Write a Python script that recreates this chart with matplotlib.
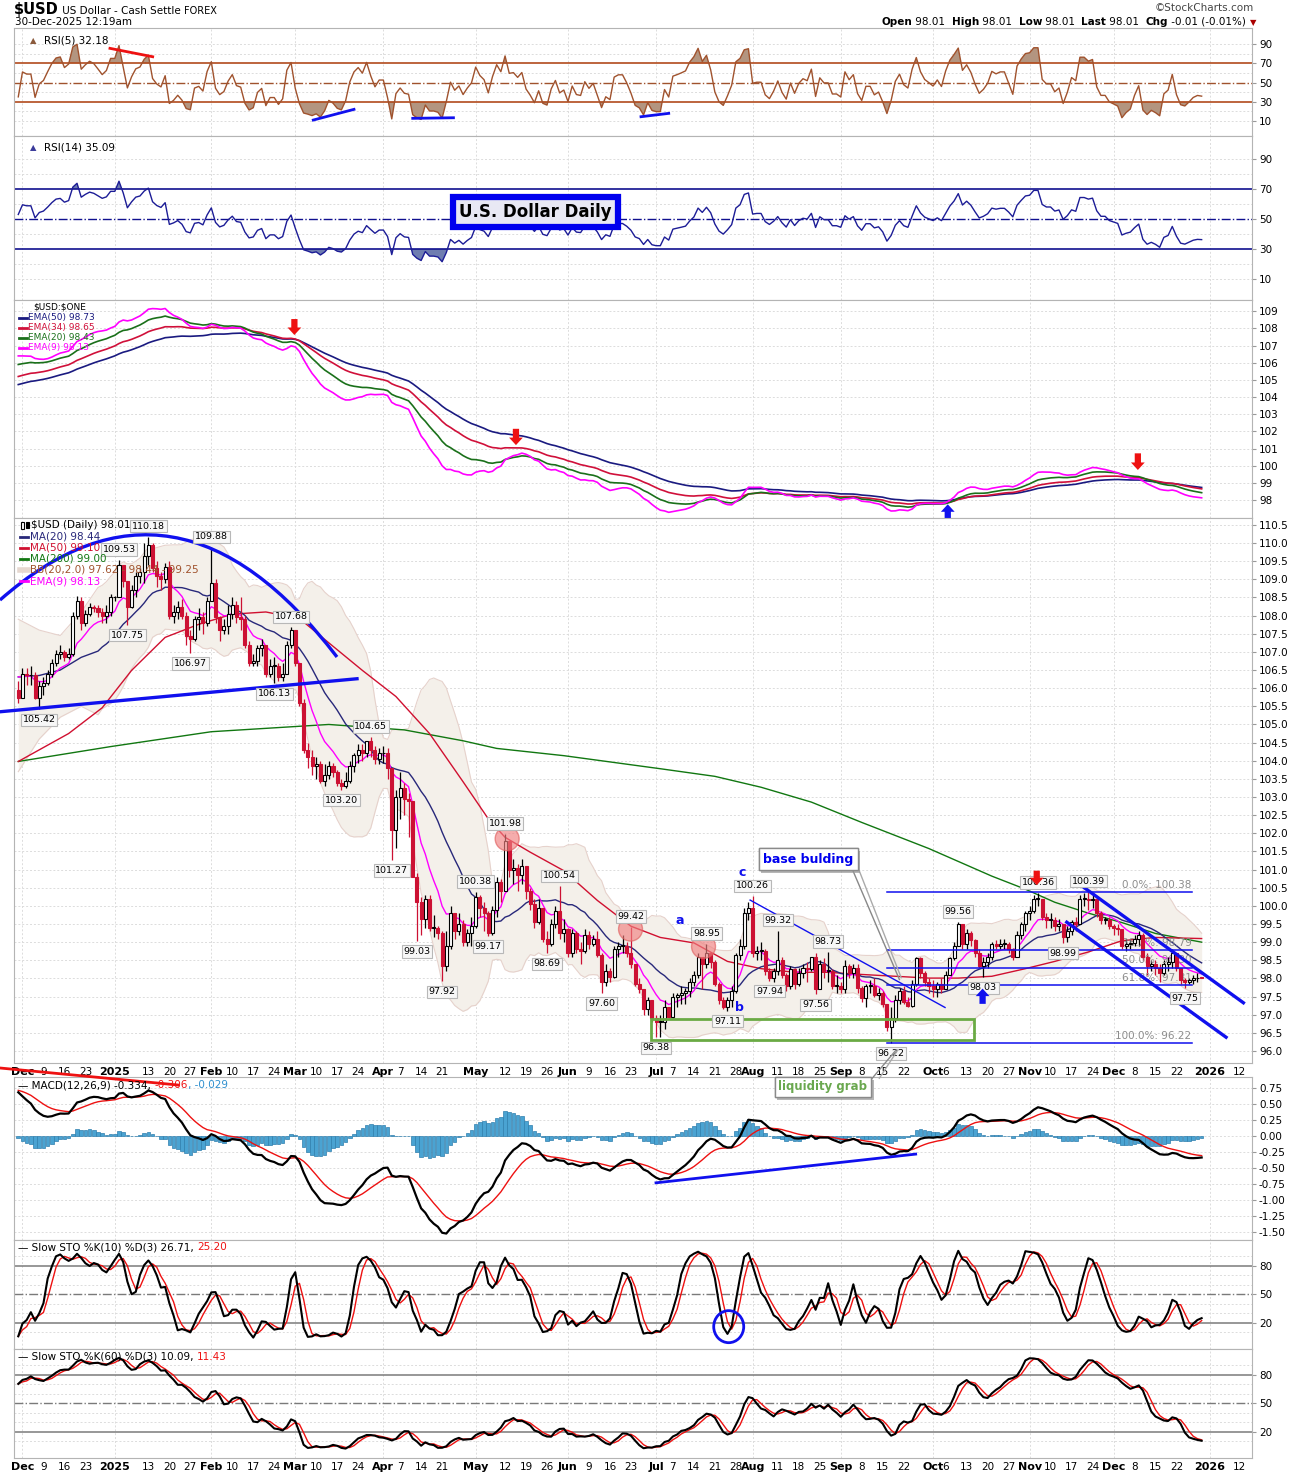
import numpy as np
import pandas as pd
import matplotlib
matplotlib.use("Agg")
import matplotlib.pyplot as plt
from matplotlib.patches import Ellipse, PathPatch, Rectangle
from matplotlib.path import Path
from matplotlib.lines import Line2D
from matplotlib.offsetbox import TextArea, HPacker, AnchoredOffsetbox
import matplotlib.patheffects as pe

plt.rcParams['font.family'] = ['DejaVu Sans']

# ---------------- DATA ----------------
first_day = "2024-11-29"
first_open = 105.95
closes = [105.74,
    106.40, 106.35, 106.35, 105.73, 106.06,
    106.15, 106.40, 106.70, 106.95, 107.00,
    106.85, 106.95, 108.00, 108.40, 107.80,
    108.05, 108.25, 108.20, 108.10, 108.00,
    108.10, 108.50, 108.50, 109.40, 108.95,
    108.25, 108.70, 109.10, 109.20, 109.65,
    109.95, 109.30, 109.10, 109.00, 109.35,
    108.00, 108.10, 108.25, 108.00, 107.45,
    107.35, 107.90, 107.95, 107.80, 108.40,
    108.90, 107.95, 107.60, 107.70, 108.05,
    108.30, 107.95, 107.90, 107.20, 106.70,
    106.75, 107.10, 107.20, 106.40, 106.60,
    106.60, 106.30, 106.40, 107.20, 107.60,
    106.70, 105.60, 104.30, 104.10, 103.85,
    103.90, 103.45, 103.60, 103.85, 103.70,
    103.40, 103.30, 103.45, 103.85, 104.15,
    104.30, 104.20, 104.55, 104.30, 104.05,
    104.20, 104.20, 103.80, 102.10, 103.00,
    103.25, 102.95, 102.90, 100.80, 100.10,
    99.65, 100.20, 99.40, 99.40, 99.25,
    98.35, 98.90, 99.80, 99.30, 99.50,
    99.00, 99.25, 99.45, 100.25, 99.95,
    99.80, 99.25, 99.90, 100.65, 100.40,
    101.80, 101.00, 101.05, 100.85, 101.10,
    100.40, 100.05, 99.55, 99.95, 99.10,
    98.95, 99.50, 99.85, 99.25, 99.35,
    98.70, 99.25, 98.80, 98.75, 99.20,
    98.95, 99.10, 98.65, 97.90, 98.20,
    98.05, 98.80, 98.90, 98.90, 98.70,
    98.40, 97.85, 97.70, 97.15, 97.40,
    96.90, 96.80, 96.80, 97.20, 96.95,
    97.50, 97.55, 97.60, 97.65, 97.90,
    98.10, 98.60, 98.40, 98.70, 98.45,
    97.85, 97.40, 97.20, 97.40, 97.65,
    98.65, 98.90, 99.80, 99.95, 98.70,
    98.75, 98.75, 98.20, 98.00, 98.20,
    98.50, 98.10, 97.80, 98.25, 97.85,
    98.15, 98.30, 98.25, 98.60, 97.70,
    98.40, 98.20, 98.20, 97.80, 97.80,
    97.70, 98.35, 98.15, 98.30, 97.75,
    97.45, 97.80, 97.80, 97.55, 97.60,
    97.30, 96.65, 96.90, 97.40, 97.65,
    97.35, 97.25, 97.85, 98.55, 98.15,
    97.90, 97.80, 97.70, 97.85, 97.70,
    98.10, 98.55, 98.90, 99.50, 98.95,
    99.25, 99.05, 98.70, 98.35, 98.45,
    98.60, 98.95, 98.90, 98.95, 98.95,
    98.80, 98.60, 99.20, 99.50, 99.80,
    99.85, 100.20, 100.20, 99.70, 99.60,
    99.60, 99.45, 99.50, 99.15, 99.30,
    99.55, 99.50, 100.20, 100.20, 100.15,
    100.20, 99.80, 99.60, 99.60, 99.45,
    99.40, 99.35, 98.90, 98.95, 98.98,
    99.10, 99.20, 98.60, 98.35, 98.40,
    98.30, 98.15, 98.40, 98.45, 98.70,
    98.30, 97.95, 97.90, 97.95, 98.00,
    98.02, 98.01]
highs = [106.20,
    106.55, 106.55, 106.60, 106.45, 106.20,
    106.30, 106.50, 106.80, 107.05, 107.20,
    107.05, 107.10, 108.10, 108.55, 108.50,
    108.15, 108.35, 108.30, 108.30, 108.20,
    108.30, 108.60, 108.55, 109.53, 109.40,
    108.90, 108.85, 109.20, 109.30, 110.00,
    110.18, 110.00, 109.50, 109.20, 109.45,
    109.50, 108.30, 108.40, 108.45, 108.10,
    107.60, 108.00, 108.20, 108.10, 108.50,
    109.88, 109.00, 108.00, 107.90, 108.30,
    108.50, 108.40, 108.50, 108.00, 107.30,
    106.95, 107.20, 107.35, 107.20, 106.80,
    106.85, 106.70, 106.70, 107.30, 107.68,
    107.60, 106.70, 105.70, 104.50, 104.30,
    104.10, 104.00, 103.90, 104.00, 103.95,
    103.75, 103.50, 103.70, 104.00, 104.20,
    104.45, 104.45, 104.55, 104.65, 104.40,
    104.35, 104.40, 104.35, 103.60, 103.20,
    103.70, 103.40, 103.10, 102.90, 100.90,
    100.25, 100.30, 100.30, 99.75, 99.45,
    99.30, 99.30, 100.00, 99.70, 99.80,
    99.60, 99.35, 99.70, 100.38, 100.30,
    100.10, 99.85, 100.00, 100.80, 100.75,
    101.98, 101.80, 101.30, 101.15, 101.30,
    101.00, 100.50, 100.20, 100.20, 99.90,
    99.30, 99.65, 100.00, 100.54, 99.65,
    99.40, 99.35, 99.30, 99.00, 99.35,
    99.30, 99.20, 99.30, 98.70, 98.40,
    98.30, 98.90, 99.00, 99.20, 99.00,
    99.42, 98.40, 98.00, 97.70, 97.50,
    97.40, 97.00, 97.00, 97.40, 97.20,
    97.60, 97.60, 97.80, 97.75, 98.00,
    98.20, 98.70, 98.60, 98.95, 98.70,
    98.50, 97.90, 97.50, 97.50, 97.80,
    98.70, 99.10, 99.95, 100.10, 100.26,
    98.90, 99.00, 98.80, 98.30, 98.30,
    99.32, 98.60, 98.15, 98.35, 98.30,
    98.30, 98.40, 98.45, 98.60, 98.70,
    98.50, 98.55, 98.73, 98.25, 98.10,
    97.90, 98.50, 98.40, 98.40, 98.40,
    97.80, 97.85, 97.95, 98.00, 97.75,
    97.65, 97.30, 97.20, 97.55, 97.75,
    97.80, 97.50, 97.95, 98.60, 98.60,
    98.20, 98.00, 97.95, 97.90, 98.00,
    98.20, 98.60, 99.00, 99.56, 99.50,
    99.35, 99.30, 99.10, 98.80, 98.60,
    98.70, 99.00, 99.05, 99.10, 99.10,
    99.00, 98.85, 99.30, 99.55, 99.85,
    100.00, 100.30, 100.36, 100.20, 99.80,
    99.80, 99.70, 99.65, 99.50, 99.45,
    99.60, 99.70, 100.30, 100.36, 100.39,
    100.30, 100.25, 99.85, 99.70, 99.70,
    99.50, 99.50, 99.30, 99.10, 99.10,
    99.20, 99.30, 99.25, 98.70, 98.50,
    98.50, 98.40, 98.50, 98.60, 98.80,
    98.70, 98.30, 98.00, 98.00, 98.10,
    98.15, 98.01]
lows = [105.60,
    105.75, 106.10, 106.10, 105.70, 105.42,
    105.80, 106.10, 106.30, 106.60, 106.80,
    106.75, 106.80, 106.90, 107.90, 107.60,
    107.70, 108.00, 108.10, 107.95, 107.80,
    107.80, 108.00, 108.40, 108.50, 108.80,
    107.75, 108.20, 108.50, 108.90, 108.90,
    109.40, 109.20, 108.80, 108.70, 108.90,
    107.90, 107.80, 107.90, 107.90, 107.20,
    106.97, 107.30, 107.60, 107.50, 107.70,
    108.40, 107.80, 107.30, 107.50, 107.50,
    107.90, 107.80, 107.60, 107.10, 106.60,
    106.60, 106.60, 106.90, 106.30, 106.30,
    106.13, 106.20, 106.20, 106.40, 107.10,
    106.60, 105.50, 104.20, 103.80, 103.60,
    103.50, 103.40, 103.30, 103.50, 103.55,
    103.30, 103.20, 103.25, 103.40, 103.70,
    103.95, 104.00, 104.10, 104.10, 103.90,
    103.90, 103.95, 103.50, 101.27, 101.60,
    102.40, 102.50, 101.90, 100.80, 99.03,
    99.20, 99.40, 99.30, 99.15, 99.10,
    97.92, 98.20, 98.80, 99.10, 99.20,
    98.90, 98.90, 98.90, 99.40, 99.70,
    99.30, 99.17, 99.20, 99.70, 100.10,
    100.50, 100.80, 100.60, 100.40, 100.60,
    100.20, 99.90, 99.40, 99.50, 99.00,
    98.69, 98.90, 99.40, 99.10, 99.00,
    98.60, 98.60, 98.70, 98.40, 98.70,
    98.80, 98.90, 98.60, 97.60, 97.80,
    97.90, 98.00, 98.60, 98.70, 98.60,
    98.30, 97.80, 97.60, 97.00, 97.00,
    96.80, 96.38, 96.40, 96.60, 96.90,
    96.90, 97.20, 97.30, 97.30, 97.50,
    97.80, 98.00, 97.70, 98.30, 98.30,
    97.80, 97.30, 97.15, 97.11, 97.20,
    97.60, 98.50, 98.80, 99.60, 98.60,
    98.50, 98.50, 98.10, 97.94, 97.90,
    98.10, 98.00, 97.65, 97.70, 97.70,
    97.80, 98.00, 97.90, 98.20, 97.56,
    97.70, 98.00, 97.90, 97.70, 97.60,
    97.60, 97.60, 98.00, 98.00, 97.60,
    97.35, 97.20, 97.60, 97.50, 97.40,
    97.20, 96.55, 96.22, 96.80, 97.30,
    97.30, 97.20, 97.20, 97.80, 98.00,
    97.80, 97.60, 97.50, 97.50, 97.60,
    97.70, 98.10, 98.50, 98.90, 98.80,
    98.80, 98.90, 98.60, 98.30, 98.03,
    98.30, 98.50, 98.80, 98.80, 98.80,
    98.70, 98.50, 98.60, 99.10, 99.30,
    99.60, 99.80, 100.00, 99.60, 99.40,
    99.40, 99.30, 99.30, 98.99, 99.00,
    99.20, 99.30, 99.50, 100.00, 99.90,
    99.95, 99.70, 99.50, 99.50, 99.35,
    99.20, 99.20, 98.80, 98.75, 98.80,
    98.90, 98.90, 98.50, 98.10, 98.20,
    98.10, 97.90, 98.10, 98.20, 98.30,
    98.20, 97.85, 97.75, 97.85, 97.85,
    97.90, 98.01]

# slow moving averages (day index, value)
ma50_days = [0, 12, 20, 27, 35, 43, 51, 59, 67, 74, 82, 90, 98, 106, 112, 116, 122, 130, 138,
             146, 153, 161, 169, 177, 185, 193, 201, 209, 217, 224, 232, 240, 247, 255, 263, 271, 282]
ma50_vals = [103.98, 104.75, 105.46, 106.49, 107.40, 107.76, 108.04, 108.10, 107.92, 107.25, 106.49,
             105.77, 104.75, 103.42, 102.40, 101.89, 101.48, 100.97, 100.15, 99.44, 99.13, 98.98,
             98.47, 98.27, 98.17, 98.17, 98.11, 98.06, 98.01, 98.01, 98.06, 98.27, 98.47, 98.73,
             99.04, 99.13, 99.10]
ma200_days = [0, 22, 46, 74, 92, 106, 114, 130, 153, 166, 177, 189, 201, 217, 232, 240, 247, 255, 263, 271, 282]
ma200_vals = [103.98, 104.39, 104.80, 105.00, 104.85, 104.55, 104.34, 104.14, 103.78, 103.57, 103.27,
              102.86, 102.30, 101.58, 100.82, 100.46, 100.10, 99.80, 99.54, 99.24, 99.00]
# start of MA(20) and Bollinger band before 20 bars exist
ma20_warm_days = [0, 5, 10, 15]
ma20_warm_vals = [106.31, 106.35, 106.50, 106.85]
bb_warm_days = [0, 5, 10, 15]
bb_warm_upper = [107.90, 107.60, 107.45, 108.10]
bb_warm_lower = [103.70, 104.60, 105.20, 105.50]
# indicator starting values read at the left edge
ema_panel_seed_50 = 104.73
ema_panel_seed_34 = 105.20
ema_panel_seed_20 = 105.90
ema_panel_seed_9 = 106.40
ema9_price_seed = 106.31
macd_fast_seed = 106.55
macd_slow_seed = 105.86
macd_signal_seed = 0.72
rsi5_seed = 35.0
rsi14_seed = 53.0
sto_pre_offsets = [-44, -18, -5]
sto_pre_highs = [101.00, 104.20, 108.07]
sto_pre_lows = [100.16, 103.40, 107.00]

# price-labels (day, value, 1=above/0=below)
label_days = [31, 24, 46, 26, 41, 65, 61, 5, 84, 77, 89, 95, 101, 109, 112, 116, 126, 129, 139, 146,
              152, 164, 169, 175, 181, 179, 193, 190, 208, 224, 230, 243, 249, 255, 278]
label_vals = [110.18, 109.53, 109.88, 107.75, 106.97, 107.68, 106.13, 105.42, 104.65, 103.20, 101.27,
              99.03, 97.92, 100.38, 99.17, 101.98, 98.69, 100.54, 97.60, 99.42, 96.38, 98.95, 97.11,
              100.26, 99.32, 97.94, 98.73, 97.56, 96.22, 99.56, 98.03, 100.36, 98.99, 100.39, 97.75]
label_up = [1, 1, 1, 0, 0, 1, 0, 0, 1, 0, 0, 0, 0, 1, 0, 1, 0, 1, 0, 1, 0, 1, 0, 1, 1, 0, 1, 0, 0, 1,
            0, 1, 0, 1, 0]

fib_levels = [100.38, 98.79, 98.30, 97.81, 96.22]
fib_names = ["0.0%: 100.38", "38.2%: 98.79", "50.0%: 98.30", "61.8%: 97.81", "100.0%: 96.22"]

tick_dates = ['2024-12-02', '2024-12-09', '2024-12-16', '2024-12-23', '2025-01-01', '2025-01-13',
              '2025-01-20', '2025-01-27', '2025-02-03', '2025-02-10', '2025-02-17', '2025-02-24',
              '2025-03-03', '2025-03-10', '2025-03-17', '2025-03-24', '2025-04-01', '2025-04-07',
              '2025-04-14', '2025-04-21', '2025-05-01', '2025-05-12', '2025-05-19', '2025-05-26',
              '2025-06-02', '2025-06-09', '2025-06-16', '2025-06-23', '2025-07-01', '2025-07-07',
              '2025-07-14', '2025-07-21', '2025-07-28', '2025-08-01', '2025-08-11', '2025-08-18',
              '2025-08-25', '2025-09-01', '2025-09-08', '2025-09-15', '2025-09-22', '2025-10-01',
              '2025-10-06', '2025-10-13', '2025-10-20', '2025-10-27', '2025-11-03', '2025-11-10',
              '2025-11-17', '2025-11-24', '2025-12-01', '2025-12-08', '2025-12-15', '2025-12-22',
              '2026-01-01', '2026-01-12']
tick_labels = ['Dec', '9', '16', '23', '2025', '13', '20', '27', 'Feb', '10', '17', '24', 'Mar', '10',
               '17', '24', 'Apr', '7', '14', '21', 'May', '12', '19', '26', 'Jun', '9', '16', '23',
               'Jul', '7', '14', '21', '28', 'Aug', '11', '18', '25', 'Sep', '8', '15', '22', 'Oct',
               '6', '13', '20', '27', 'Nov', '10', '17', '24', 'Dec', '8', '15', '22', '2026', '12']
month_labels = {'Dec', '2025', 'Feb', 'Mar', 'Apr', 'May', 'Jun', 'Jul', 'Aug', 'Sep', 'Oct', 'Nov', '2026'}

# ---------------- computations ----------------
n = len(closes)
assert len(highs) == n and len(lows) == n
C = np.array(closes)
O = np.concatenate([[first_open], C[:-1]])
Hh = np.maximum(np.array(highs), np.maximum(O, C))
Ll = np.minimum(np.array(lows), np.minimum(O, C))
xd = np.arange(n)
ext_dates = pd.bdate_range(first_day, '2026-02-27')
date_pos = {d.strftime('%Y-%m-%d'): i for i, d in enumerate(ext_dates)}
tick_pos = [date_pos[t] for t in tick_dates]
month_pos = [p for p, l in zip(tick_pos, tick_labels) if l in month_labels]


def ema_seeded(vals, span, seed):
    a = 2.0 / (span + 1)
    out = np.empty(len(vals))
    out[0] = seed
    for i in range(1, len(vals)):
        out[i] = a * vals[i] + (1 - a) * out[i - 1]
    return out


def rsi_wilder(vals, period, seed_rsi, seed_loss):
    al = seed_loss
    ag = seed_loss * seed_rsi / (100 - seed_rsi)
    out = np.empty(len(vals))
    out[0] = seed_rsi
    for i in range(1, len(vals)):
        ch = vals[i] - vals[i - 1]
        ag = (ag * (period - 1) + max(ch, 0)) / period
        al = (al * (period - 1) + max(-ch, 0)) / period
        out[i] = 100 - 100 / (1 + ag / al) if al > 0 else 100
    return out


s = pd.Series(C)
ma20 = s.rolling(20).mean().values
sd20 = s.rolling(20).std(ddof=0).values
bb_up = ma20 + 2 * sd20
bb_lo = ma20 - 2 * sd20
ema9 = ema_seeded(C, 9, ema9_price_seed)

e50 = ema_seeded(C, 50, ema_panel_seed_50)
e34 = ema_seeded(C, 34, ema_panel_seed_34)
e20 = ema_seeded(C, 20, ema_panel_seed_20)
e9 = ema_seeded(C, 9, ema_panel_seed_9)

rsi5 = rsi_wilder(C, 5, rsi5_seed, 0.16)
rsi14 = rsi_wilder(C, 14, rsi14_seed, 0.15)

macd = ema_seeded(C, 12, macd_fast_seed) - ema_seeded(C, 26, macd_slow_seed)
signal = ema_seeded(macd, 9, macd_signal_seed)
hist = macd - signal

pre_len = 44
Hx = np.full(pre_len + n, np.nan)
Lx = np.full(pre_len + n, np.nan)
Hx[pre_len:] = Hh
Lx[pre_len:] = Ll
for o, h, l in zip(sto_pre_offsets, sto_pre_highs, sto_pre_lows):
    Hx[pre_len + o] = h
    Lx[pre_len + o] = l


def slow_sto(k):
    hh = pd.Series(Hx).rolling(k, min_periods=1).max().values[pre_len:]
    ll = pd.Series(Lx).rolling(k, min_periods=1).min().values[pre_len:]
    fk = 100 * (C - ll) / (hh - ll)
    sk = pd.Series(fk).rolling(3, min_periods=1).mean().values
    dd = pd.Series(sk).rolling(3, min_periods=1).mean().values
    return sk, dd


sto10_k, sto10_d = slow_sto(10)
sto60_k, sto60_d = slow_sto(60)

# ---------------- figure ----------------
W, H = 1300, 1474
fig = plt.figure(figsize=(13, 14.74), dpi=100)
fig.patch.set_facecolor('white')


def fx(x):
    return x / W


def fy(y):
    return 1 - y / H


LEFT, RIGHT = 14, 1252
XL = (-1.02, 294.0)
GRID = '#dcdcdc'
SPINE = '#b4b4b4'
TOP_Z = 30


def panel(top, bottom):
    return fig.add_axes([fx(LEFT), fy(bottom), (RIGHT - LEFT) / W, (bottom - top) / H])


def style(ax, ylim, yticks, ylabels, grid_y):
    ax.set_xlim(XL)
    ax.set_ylim(ylim)
    ax.yaxis.tick_right()
    ax.set_yticks(yticks)
    ax.set_yticklabels(ylabels, fontsize=7.5)
    ax.tick_params(axis='y', length=3, color='#999999', pad=2)
    ax.set_xticks([])
    for sp in ax.spines.values():
        sp.set_color(SPINE)
    for g in grid_y:
        ax.axhline(g, color=GRID, ls=(0, (2, 2)), lw=0.7, zorder=0)
    for m in month_pos:
        ax.axvline(m, color=GRID, ls=(0, (2, 2)), lw=0.7, zorder=0)


def xlabels(ax):
    ax.set_xticks(tick_pos)
    ax.set_xticklabels(tick_labels, fontsize=7.5)
    ax.tick_params(axis='x', length=0, pad=3)
    for t in ax.get_xticklabels():
        if t.get_text() in month_labels:
            t.set_fontweight('bold')
            t.set_fontsize(8)


def ftext(x, y, s, **kw):
    fig.text(fx(x), fy(y), s, zorder=TOP_Z, **kw)


def legline(x, y, color, lw=2):
    fig.add_artist(Line2D([fx(x), fx(x + 8)], [fy(y), fy(y)], color=color, lw=lw, zorder=TOP_Z))


def block_arrow(ax, x, y_tail, y_tip, color):
    ax.annotate('', xy=(x, y_tip), xytext=(x, y_tail), annotation_clip=False, zorder=12,
                arrowprops=dict(arrowstyle='simple,head_length=0.6,head_width=1.1,tail_width=0.5',
                                fc=color, ec='none', mutation_scale=9, shrinkA=0, shrinkB=0))


def anchored(child, loc, x, y):
    box = AnchoredOffsetbox(loc=loc, child=child, frameon=False, pad=0, borderpad=0,
                            bbox_to_anchor=(fx(x), fy(y)), bbox_transform=fig.transFigure)
    box.set_zorder(TOP_Z)
    fig.add_artist(box)


# ---- header ----
hdr1 = HPacker(children=[TextArea('$USD', textprops=dict(fontsize=10.5, fontweight='bold')),
                         TextArea(' US Dollar - Cash Settle ', textprops=dict(fontsize=7.5)),
                         TextArea('FOREX', textprops=dict(fontsize=7))], pad=0, sep=0, align='baseline')
anchored(hdr1, 'upper left', 14, 2)
ftext(15, 22, '30-Dec-2025 12:19am', fontsize=7.5, va='center')
ftext(1254, 8, '\u00a9StockCharts.com', fontsize=7.5, color='#444444', ha='right', va='center')
parts = [('Open', True), (' 98.01  ', False), ('High', True), (' 98.01  ', False), ('Low', True),
         (' 98.01  ', False), ('Last', True), (' 98.01  ', False), ('Chg', True), (' -0.01 (-0.01%) ', False)]
kids = [TextArea(t, textprops=dict(fontsize=7.5, fontweight='bold' if b else 'normal')) for t, b in parts]
kids.append(TextArea('\u25bc', textprops=dict(fontsize=6, color='#aa0000')))
anchored(HPacker(children=kids, pad=0, sep=0, align='baseline'), 'center right', 1256, 22)

# ---- RSI(5) ----
ax1 = panel(28, 136)
style(ax1, (-6.0, 107.1), [10, 30, 50, 70, 90], ['10', '30', '50', '70', '90'], [10, 20, 40, 60, 80, 90])
ax1.axhline(70, color='#b24a1c', lw=1.2)
ax1.axhline(30, color='#b24a1c', lw=1.2)
ax1.axhline(50, color='#a0522d', lw=1.0, ls='-.')
ax1.fill_between(xd, rsi5, 70, where=rsi5 > 70, interpolate=True, color='#b39580', lw=0)
ax1.fill_between(xd, rsi5, 30, where=rsi5 < 30, interpolate=True, color='#b39580', lw=0)
ax1.plot(xd, rsi5, color='#a0522d', lw=1.0)
ax1.plot([21.85, 32.03], [85.8, 77.0], color='#ee1111', lw=2)
ax1.plot([70.3, 80.0], [10.7, 21.9], color='#1010ee', lw=2)
ax1.plot([94.0, 103.7], [12.5, 13.1], color='#1010ee', lw=2)
ax1.plot([148.4, 155.0], [14.2, 17.7], color='#1010ee', lw=2)
ax1.text(0.013, 0.93, '\u25b2', transform=ax1.transAxes, fontsize=6, color='#8b5a3c', va='top')
ax1.text(0.024, 0.93, 'RSI(5) 32.18', transform=ax1.transAxes, fontsize=7.5, va='top')

# ---- RSI(14) ----
ax2 = panel(136, 300)
style(ax2, (-4.0, 105.3), [10, 30, 50, 70, 90], ['10', '30', '50', '70', '90'], [10, 20, 40, 60, 80, 90])
ax2.axhline(70, color='#10108f', lw=1.2)
ax2.axhline(30, color='#10108f', lw=1.2)
ax2.axhline(50, color='#10108f', lw=1.0, ls='-.')
ax2.fill_between(xd, rsi14, 70, where=rsi14 > 70, interpolate=True, color='#6f7db0', lw=0)
ax2.fill_between(xd, rsi14, 30, where=rsi14 < 30, interpolate=True, color='#6f7db0', lw=0)
ax2.plot(xd, rsi14, color='#1c1c96', lw=1.0)
ax2.text(0.013, 0.96, '\u25b2', transform=ax2.transAxes, fontsize=6, color='#3a3a9a', va='top')
ax2.text(0.024, 0.96, 'RSI(14) 35.09', transform=ax2.transAxes, fontsize=7.5, va='top')
ax2.text(123.3, 54.7, 'U.S. Dollar Daily', ha='center', va='center', fontsize=12, fontweight='bold',
         family=['Liberation Sans Narrow', 'DejaVu Sans'], color='black', zorder=10,
         bbox=dict(boxstyle='square,pad=0.38', fc='#e8e8f4', ec='#0000ee', lw=4.5))

# ---- EMA panel ----
ax3 = panel(300, 518)
style(ax3, (96.95, 109.66), list(range(98, 110)), [str(v) for v in range(98, 110)], list(range(98, 110)))
ax3.plot(xd, e50, color='#1a1a80', lw=1.2)
ax3.plot(xd, e34, color='#d0103a', lw=1.2)
ax3.plot(xd, e20, color='#1a701a', lw=1.2)
ax3.plot(xd, e9, color='#ff00ff', lw=1.2)
block_arrow(ax3, 65.8, 108.55, 107.62, '#ee1111')
block_arrow(ax3, 118.6, 102.15, 101.20, '#ee1111')
block_arrow(ax3, 266.8, 100.72, 99.75, '#ee1111')
block_arrow(ax3, 221.5, 96.85, 97.75, '#1010ee')
ftext(33, 307, '\\$USD:\\$ONE', fontsize=6.5, va='center')
for i, (txt, col) in enumerate([('EMA(50) 98.73', '#1a1a80'), ('EMA(34) 98.65', '#d0103a'),
                                ('EMA(20) 98.43', '#1a701a'), ('EMA(9) 98.13', '#ff00ff')]):
    yy = 317.5 + 10 * i
    legline(19, yy, col)
    ftext(28, yy, txt, fontsize=6.5, color=col, va='center')

# ---- Price panel ----
ax4 = panel(518, 1063)
ax4.set_zorder(10)
pt = np.arange(96.0, 110.51, 0.5)
style(ax4, (95.67, 110.69), pt, ['%.1f' % v for v in pt], pt)
xlabels(ax4)
# Bollinger band
bx = np.concatenate([bb_warm_days, xd[19:]])
bu = np.concatenate([bb_warm_upper, bb_up[19:]])
bl = np.concatenate([bb_warm_lower, bb_lo[19:]])
ax4.fill_between(bx, bl, bu, color='#f4f0ea', lw=0, zorder=1)
ax4.plot(bx, bu, color='#e6d2cc', lw=0.8, zorder=1)
ax4.plot(bx, bl, color='#e6d2cc', lw=0.8, zorder=1)
ax4.plot(ma200_days, ma200_vals, color='#117711', lw=1.0, zorder=2)
ax4.plot(ma50_days, ma50_vals, color='#d01030', lw=1.0, zorder=2)
ax4.plot(np.concatenate([ma20_warm_days, xd[19:]]), np.concatenate([ma20_warm_vals, ma20[19:]]),
         color='#28287a', lw=1.0, zorder=2)
ax4.plot(xd, ema9, color='#ff00ff', lw=1.0, zorder=2)
# candles
up = C >= O
RED = '#cc1133'
wick_col = np.where(up, 'black', RED)
ax4.vlines(xd, Ll, Hh, colors=wick_col, lw=0.9, zorder=3)
body_h = np.maximum(np.abs(C - O), 0.025)
body_b = np.minimum(O, C)
ax4.bar(xd[up], body_h[up], bottom=body_b[up], width=0.72, color='white', edgecolor='black', lw=0.8, zorder=4)
ax4.bar(xd[~up], body_h[~up], bottom=body_b[~up], width=0.72, color=RED, edgecolor=RED, lw=0.8, zorder=4)
# fib lines
for lv, nm in zip(fib_levels, fib_names):
    ax4.plot([206.96, 279.8], [lv, lv], color='#1010ee', lw=1.1, zorder=5)
    ax4.text(279.6, lv + 0.06, nm, ha='right', va='bottom', fontsize=7.5, color='#8c8c8c', zorder=3.5)
# arc and neckline
arc = Path([(-4.36, 108.43), (37.5, 112.69), (75.95, 106.86)], [Path.MOVETO, Path.CURVE3, Path.CURVE3])
ax4.add_patch(PathPatch(arc, fill=False, ec='#1010ee', lw=2.4, clip_on=False, zorder=6))
ax4.plot([-4.36, 80.72], [105.35, 106.26], color='#1010ee', lw=2.4, clip_on=False, zorder=6)
# trend / channel lines
ax4.plot([174.4, 220.85], [100.16, 97.20], color='#1010ee', lw=1.0, zorder=6)
ax4.plot([253.8, 291.95], [100.52, 97.33], color='#1010ee', lw=2.4, zorder=6)
ax4.plot([249.86, 287.82], [99.55, 96.38], color='#1010ee', lw=2.4, zorder=6)
# green box
ax4.add_patch(Rectangle((150.8, 96.30), 77.0, 0.59, fill=False, ec='#6aaa44', lw=2, zorder=6))
# red circles
for cx, cy in [(116.5, 101.85), (145.9, 99.36), (163.3, 98.88)]:
    ax4.add_patch(Ellipse((cx, cy), 5.7, 0.66, fc='#f08080', ec='#e06060', alpha=0.65, lw=1, zorder=6))
# wave letters
for txt, lx, ly in [('a', 157.7, 99.60), ('b', 171.8, 97.20), ('c', 172.6, 100.92)]:
    ax4.text(lx, ly, txt, color='#1010ee', fontsize=9, fontweight='bold', ha='center', va='center', zorder=7)
# price labels
for d, v, u in zip(label_days, label_vals, label_up):
    ax4.annotate('%.2f' % v, xy=(d, v), xytext=(0, 6 if u else -6), textcoords='offset pixels',
                 ha='center', va='bottom' if u else 'top', fontsize=6.8, zorder=8,
                 bbox=dict(boxstyle='square,pad=0.18', fc='#f7f7f7', ec='#b8b8b8', lw=0.8),
                 annotation_clip=False)
# arrows on price
block_arrow(ax4, 242.7, 100.97, 100.57, '#ee1111')
block_arrow(ax4, 229.8, 97.30, 97.72, '#1010ee')
# callouts
t1 = ax4.text(188.2, 101.29, 'base bulding', ha='center', va='center', color='#0000ee', fontsize=9,
              fontweight='bold', zorder=9,
              bbox=dict(boxstyle='square,pad=0.35', fc='white', ec='#8a8a8a', lw=1))
t1.get_bbox_patch().set_path_effects([pe.withSimplePatchShadow(offset=(2, -2), shadow_rgbFace='#999999', alpha=0.7), pe.Normal()])
ax4.plot([198.9, 209.98], [100.97, 97.97], color='#888888', lw=1.0, zorder=8)
ax4.plot([200.4, 210.4], [100.97, 98.02], color='#aaaaaa', lw=1.0, zorder=8)
t2 = ax4.text(191.7, 95.01, 'liquidity grab', ha='center', va='center', color='#6aa84f', fontsize=8.5,
              fontweight='bold', zorder=9, clip_on=False,
              bbox=dict(boxstyle='square,pad=0.3', fc='white', ec='#8a8a8a', lw=1))
t2.get_bbox_patch().set_path_effects([pe.withSimplePatchShadow(offset=(2, -2), shadow_rgbFace='#999999', alpha=0.7), pe.Normal()])
ax4.plot([203.5, 209.2], [95.25, 96.03], color='#888888', lw=1.0, zorder=8, clip_on=False)
ax4.plot([205.2, 209.6], [95.25, 96.03], color='#aaaaaa', lw=1.0, zorder=8, clip_on=False)
# legend (with a small candle icon)
fig.add_artist(Rectangle((fx(20.5), fy(529)), 3 / W, 7 / H, fc='white', ec='black', lw=0.8, zorder=TOP_Z))
fig.add_artist(Rectangle((fx(25.5), fy(528)), 3 / W, 6 / H, fc='black', ec='black', lw=0.8, zorder=TOP_Z))
ftext(31, 525.5, '$USD (Daily) 98.01', fontsize=7.5, va='center')
for i, (txt, col) in enumerate([('MA(20) 98.44', '#28287a'), ('MA(50) 99.10', '#d01030'),
                                ('MA(200) 99.00', '#117711'),
                                ('BB(20,2.0) 97.62 - 98.44 - 99.25', '#a0522d'), ('EMA(9) 98.13', '#ff00ff')]):
    yy = 536.6 + 11.1 * i
    legline(20, yy, col if i != 3 else '#e6d8d0', lw=2 if i != 3 else 4)
    ftext(30, yy, txt, fontsize=7.5, color=col, va='center')
# red line across the bottom left
fig.add_artist(Line2D([fx(0), fx(178)], [fy(1068), fy(1085)], color='#ee1111', lw=2, zorder=TOP_Z))

# ---- MACD ----
ax5 = panel(1077, 1240)
mt = [0.75, 0.5, 0.25, 0.0, -0.25, -0.5, -0.75, -1.0, -1.25, -1.5]
style(ax5, (-1.63, 0.93), mt, ['%.2f' % v for v in mt], mt)
ax5.bar(xd, hist, width=0.85, color='#4aa3d2', edgecolor='#2f7fae', lw=0.5, zorder=1)
ax5.plot(xd, signal, color='#ee1111', lw=1.0, zorder=3)
ax5.plot(xd, macd, color='black', lw=1.6, zorder=4)
ax5.plot([151.97, 213.85], [-0.732, -0.281], color='#1010ee', lw=2, zorder=5)
mk = [TextArea('\u2014 MACD(12,26,9) -0.334, ', textprops=dict(fontsize=7.5)),
      TextArea('-0.306', textprops=dict(fontsize=7.5, color='#ee1111')),
      TextArea(', -0.029', textprops=dict(fontsize=7.5, color='#2f8fce'))]
anchored(HPacker(children=mk, pad=0, sep=0, align='baseline'), 'center left', 18, 1085)


# ---- Slow STO panels ----
def sto_panel(top, bottom, ylim, k, d, leg1, leg2, ly):
    ax = panel(top, bottom)
    style(ax, ylim, [20, 50, 80], ['20', '50', '80'], [10, 30, 40, 60, 70, 90])
    ax.axhline(80, color='#7a7a7a', lw=1.1)
    ax.axhline(20, color='#7a7a7a', lw=1.1)
    ax.axhline(50, color='#7a7a7a', lw=1.0, ls='-.')
    ax.plot(xd, d, color='#ee1111', lw=1.0)
    ax.plot(xd, k, color='black', lw=1.5)
    kk = [TextArea('\u2014 ' + leg1, textprops=dict(fontsize=7.5)),
          TextArea(leg2, textprops=dict(fontsize=7.5, color='#ee1111'))]
    anchored(HPacker(children=kk, pad=0, sep=0, align='baseline'), 'center left', 18, ly)
    return ax


ax6 = sto_panel(1240, 1349, (-7.7, 107.0), sto10_k, sto10_d, 'Slow STO %K(10) %D(3) 26.71, ', '25.20', 1247.5)
ax6.add_patch(Ellipse((169.3, 15.8), 7.15, 33.7, fill=False, ec='#1010ee', lw=2, zorder=6))
ax7 = sto_panel(1349, 1458, (-7.8, 107.4), sto60_k, sto60_d, 'Slow STO %K(60) %D(3) 10.09, ', '11.43', 1356.5)
xlabels(ax7)

fig.savefig('out.png', dpi=100)
